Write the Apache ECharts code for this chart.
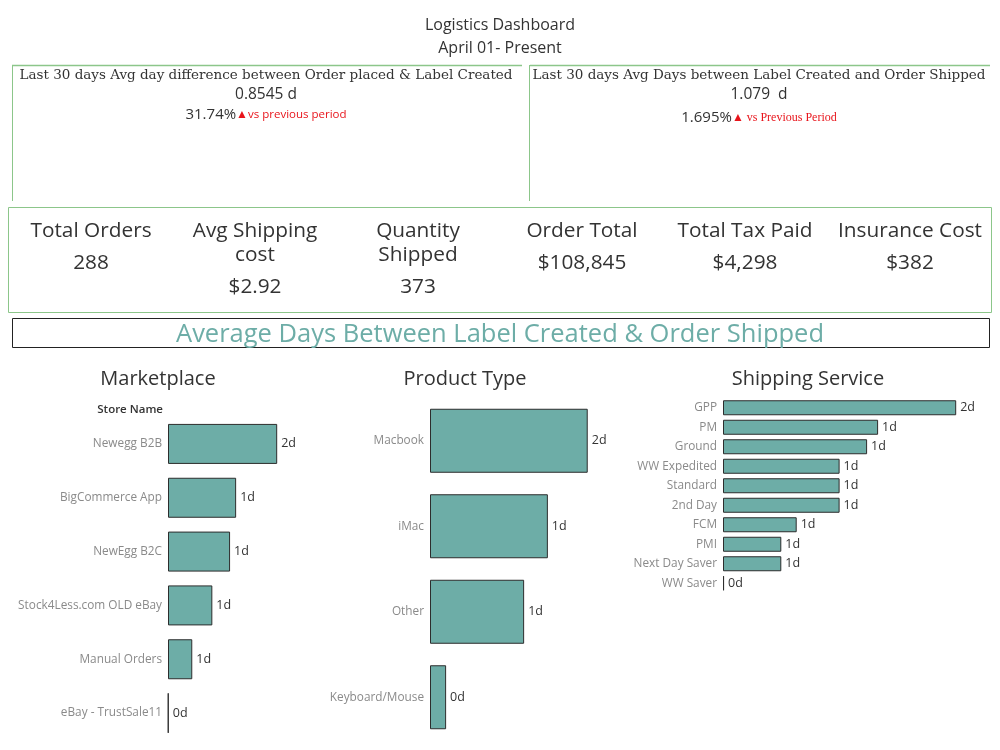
<!DOCTYPE html>
<html>
<head>
<meta charset="utf-8">
<script src="https://cdn.jsdelivr.net/npm/echarts@6/dist/echarts.min.js"></script>
<style>html,body{margin:0;padding:0;background:#fff;}#c{width:1000px;height:750px;}</style>
</head>
<body>
<div id="c"></div>
<script>
// ---- data ----
const marketplaceNames = ['Newegg B2B', 'BigCommerce App', 'NewEgg B2C', 'Stock4Less.com OLD eBay', 'Manual Orders', 'eBay - TrustSale11'];
const marketplaceDays = [2.34, 1.46, 1.33, 0.95, 0.52, 0.01];
const productNames = ['Macbook', 'iMac', 'Other', 'Keyboard/Mouse'];
const productDays = [1.86, 1.39, 1.11, 0.19];
const serviceNames = ['GPP', 'PM', 'Ground', 'WW Expedited', 'Standard', '2nd Day', 'FCM', 'PMI', 'Next Day Saver', 'WW Saver'];
const serviceDays = [2.12, 1.41, 1.31, 1.06, 1.06, 1.06, 0.67, 0.53, 0.53, 0.01];
const kpiLabels = [['Total Orders'], ['Avg Shipping', 'cost'], ['Quantity', 'Shipped'], ['Order Total'], ['Total Tax Paid'], ['Insurance Cost']];
const kpiValues = ['288', '$2.92', '373', '$108,845', '$4,298', '$382'];
const box1 = { title: 'Last 30 days Avg day difference between Order placed & Label Created', value: '0.8545 d', pct: '31.74%', note: 'vs previous period' };
const box2 = { title: 'Last 30 days Avg Days between Label Created and Order Shipped', value: '1.079  d', pct: '1.695%', note: ' vs Previous Period' };

const SANS = '"Open Sans", "Noto Sans", sans-serif';
const SERIF = '"DejaVu Serif", "Liberation Serif", serif';
const SERIF2 = '"Liberation Serif", serif';
const TEAL = '#6dada7';
const DARK = '#333333';
const GREEN = '#8cc68a';
const RED = '#e8141b';

const chart = echarts.init(document.getElementById('c'), null, { renderer: 'canvas' });

function txt(x, y, text, size, color, opts) {
  opts = opts || {};
  return {
    type: 'text', x: x, y: y, silent: true,
    style: {
      text: text, fill: color,
      font: (opts.weight || 'normal') + ' ' + size + 'px ' + (opts.family || SANS),
      textAlign: opts.align || 'center', textVerticalAlign: 'middle'
    }
  };
}
function line(x1, y1, x2, y2, color, w) {
  return { type: 'line', silent: true, shape: { x1: x1, y1: y1, x2: x2, y2: y2 }, style: { stroke: color, lineWidth: w || 1 } };
}

const graphics = [];
graphics.push(txt(500, 25, 'Logistics Dashboard', 16, DARK));
graphics.push(txt(500, 48, 'April 01- Present', 16, DARK));
// top boxes
graphics.push(line(12, 65.5, 522, 65.5, GREEN, 1.5));
graphics.push(line(12.5, 65, 12.5, 201, GREEN, 1));
graphics.push(line(530, 65.5, 990, 65.5, GREEN, 1.5));
graphics.push(line(529.5, 65, 529.5, 201, GREEN, 1));
graphics.push(txt(266, 75, box1.title, 13.5, DARK, { family: SERIF }));
graphics.push(txt(266, 95, box1.value, 15.5, DARK));
graphics.push({
  type: 'text', x: 266, y: 115, silent: true,
  style: {
    text: '{a|' + box1.pct + '}{b|▲}{c|' + box1.note + '}',
    textAlign: 'center', textVerticalAlign: 'middle',
    rich: {
      a: { fontSize: 15, fontFamily: SANS, fill: DARK },
      b: { fontSize: 12, fontFamily: SANS, fill: RED },
      c: { fontSize: 11.5, fontFamily: SANS, fill: RED }
    }
  }
});
graphics.push(txt(759, 75, box2.title, 13.5, DARK, { family: SERIF }));
graphics.push(txt(759, 95, box2.value, 15.5, DARK));
graphics.push({
  type: 'text', x: 759, y: 118, silent: true,
  style: {
    text: '{a|' + box2.pct + '}{b|▲}{c|' + box2.note + '}',
    textAlign: 'center', textVerticalAlign: 'middle',
    rich: {
      a: { fontSize: 15, fontFamily: SANS, fill: DARK },
      b: { fontSize: 12, fontFamily: SANS, fill: RED },
      c: { fontSize: 12, fontFamily: SERIF2, fill: RED }
    }
  }
});
// KPI box
graphics.push({ type: 'rect', silent: true, shape: { x: 8.5, y: 207.5, width: 983, height: 105 }, style: { fill: 'none', stroke: GREEN, lineWidth: 1 } });
const kpiX = [91, 255, 418, 582, 745, 910];
kpiLabels.forEach(function (lbls, i) {
  lbls.forEach(function (l, j) { graphics.push(txt(kpiX[i], 231 + j * 24, l, 20.8, DARK)); });
  const vy = lbls.length === 2 ? 287 : 263;
  graphics.push(txt(kpiX[i], vy, kpiValues[i], 20.8, DARK));
});
// banner
graphics.push({ type: 'rect', silent: true, shape: { x: 12.5, y: 318.5, width: 977, height: 29 }, style: { fill: 'none', stroke: '#222', lineWidth: 1 } });
graphics.push(txt(500, 335, 'Average Days Between Label Created & Order Shipped', 25.5, TEAL));
// subtitles
graphics.push(txt(158, 379, 'Marketplace', 20, DARK));
graphics.push(txt(465, 379, 'Product Type', 20, DARK));
graphics.push(txt(808, 379, 'Shipping Service', 20, DARK));
graphics.push(txt(163, 410, 'Store Name', 11.5, DARK, { align: 'right', weight: '600' }));

function barSeries(idx, data) {
  return {
    type: 'bar', xAxisIndex: idx, yAxisIndex: idx, data: data,
    barWidth: [40, 64, 15][idx],
    itemStyle: { color: TEAL, borderColor: '#2d2d2d', borderWidth: 1 },
    label: {
      show: true, position: 'right', distance: 4, color: DARK, fontSize: 12.5, fontFamily: SANS,
      formatter: function (p) { return Math.round(p.value) + 'd'; }
    },
    silent: true, animation: false
  };
}
function yCat(idx, names, size) {
  return {
    type: 'category', gridIndex: idx, data: names, inverse: true,
    axisLine: { show: false }, axisTick: { show: false },
    axisLabel: { color: '#8a8a8a', fontSize: size, fontFamily: SANS, margin: 6 }
  };
}
function xVal(idx, max) {
  return { type: 'value', gridIndex: idx, min: 0, max: max, show: false, splitLine: { show: false } };
}

chart.setOption({
  animation: false,
  grid: [
    { left: 168, top: 417, width: 140, height: 323 },
    { left: 430, top: 398, width: 212, height: 342 },
    { left: 723, top: 398, width: 275, height: 195 }
  ],
  xAxis: [xVal(0, 3), xVal(1, 2.5), xVal(2, 2.5)],
  yAxis: [yCat(0, marketplaceNames, 11.8), yCat(1, productNames, 11.8), yCat(2, serviceNames, 11.8)],
  series: [barSeries(0, marketplaceDays), barSeries(1, productDays), barSeries(2, serviceDays)],
  graphic: graphics
});
</script>
</body>
</html>
